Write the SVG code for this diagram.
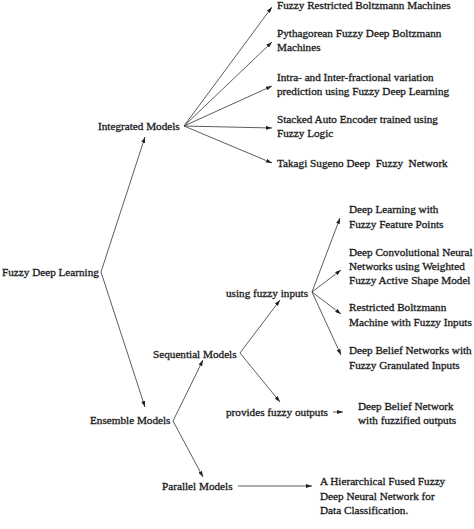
<svg xmlns="http://www.w3.org/2000/svg" width="474" height="529" viewBox="0 0 474 529">
<defs>
<marker id="ah" viewBox="0 0 6 4" refX="6" refY="2" markerWidth="6" markerHeight="4" markerUnits="userSpaceOnUse" orient="auto">
<path d="M0,0 L6,2 L0,4 Z" fill="#222"/>
</marker>
<style>
text{font-family:"Liberation Serif","DejaVu Serif",serif;font-size:11.2px;fill:#1c1c1c;stroke:#1c1c1c;stroke-width:0.32}
.c line{stroke:#333;stroke-width:0.8;fill:none}
.a{marker-end:url(#ah)}
</style>
</defs>
<rect width="474" height="529" fill="#fff"/>
<g class="c" id="connectors">
<line class="a" x1="101" y1="272" x2="145" y2="137"/>
<line class="a" x1="101" y1="272" x2="145" y2="407"/>
<line class="a" x1="184" y1="126" x2="272" y2="7"/>
<line class="a" x1="184" y1="126" x2="272" y2="42"/>
<line class="a" x1="184" y1="126" x2="272" y2="86"/>
<line class="a" x1="184" y1="126" x2="272" y2="128"/>
<line class="a" x1="184" y1="126" x2="272" y2="163"/>
<line class="a" x1="173" y1="421" x2="203" y2="360"/>
<line class="a" x1="173" y1="421" x2="203" y2="477"/>
<line class="a" x1="240" y1="353" x2="280" y2="300"/>
<line class="a" x1="240" y1="353" x2="280" y2="402"/>
<line class="a" x1="312" y1="292" x2="340" y2="218"/>
<line class="a" x1="312" y1="292" x2="341" y2="270"/>
<line class="a" x1="312" y1="292" x2="341" y2="314"/>
<line class="a" x1="312" y1="292" x2="341" y2="355"/>
<line class="a" x1="333" y1="412" x2="343" y2="412"/>
<line class="a" x1="238" y1="486" x2="312" y2="486"/>
</g>
<g id="fuzzy-deep-learning"><text x="2" y="276">Fuzzy Deep Learning</text></g>
<g id="integrated-models"><text x="98" y="130">Integrated Models</text></g>
<g id="ensemble-models"><text x="90" y="424">Ensemble Models</text></g>
<g id="sequential-models"><text x="153" y="358">Sequential Models</text></g>
<g id="parallel-models"><text x="162" y="490">Parallel Models</text></g>
<g id="using-fuzzy-inputs"><text x="226" y="297">using fuzzy inputs</text></g>
<g id="provides-fuzzy-outputs"><text x="226" y="416">provides fuzzy outputs</text></g>
<g id="frbm"><text x="277" y="9">Fuzzy Restricted Boltzmann Machines</text></g>
<g id="pfdbm"><text x="277" y="37">Pythagorean Fuzzy Deep Boltzmann</text><text x="277" y="51">Machines</text></g>
<g id="intra-inter"><text x="277" y="81">Intra- and Inter-fractional variation</text><text x="277" y="95">prediction using Fuzzy Deep Learning</text></g>
<g id="sae"><text x="277" y="123">Stacked Auto Encoder trained using</text><text x="277" y="137">Fuzzy Logic</text></g>
<g id="tsdfn"><text x="277" y="167" xml:space="preserve">Takagi Sugeno Deep  Fuzzy  Network</text></g>
<g id="dl-ffp"><text x="349" y="213">Deep Learning with</text><text x="349" y="228">Fuzzy Feature Points</text></g>
<g id="dcnn"><text x="349" y="256">Deep Convolutional Neural</text><text x="349" y="270">Networks using Weighted</text><text x="349" y="284">Fuzzy Active Shape Model</text></g>
<g id="rbm-fi"><text x="349" y="311">Restricted Boltzmann</text><text x="349" y="326">Machine with Fuzzy Inputs</text></g>
<g id="dbn-fgi"><text x="349" y="354">Deep Belief Networks with</text><text x="349" y="369">Fuzzy Granulated Inputs</text></g>
<g id="dbn-fo"><text x="358" y="410">Deep Belief Network</text><text x="358" y="424">with fuzzified outputs</text></g>
<g id="hffdnn"><text x="320" y="485">A Hierarchical Fused Fuzzy</text><text x="320" y="500">Deep Neural Network for</text><text x="320" y="514">Data Classification.</text></g>
</svg>
